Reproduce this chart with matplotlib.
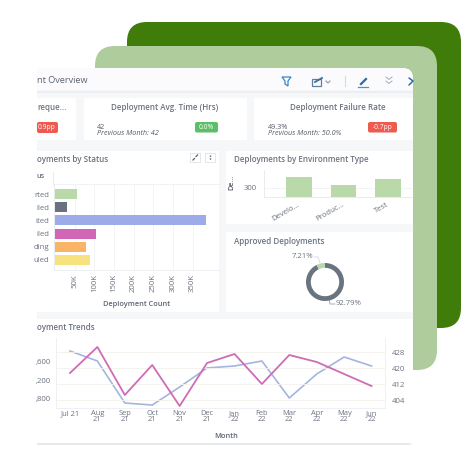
import matplotlib
matplotlib.use("Agg")
import matplotlib.pyplot as plt
from matplotlib.patches import FancyBboxPatch, Rectangle, Polygon

plt.rcParams['font.family'] = ['Open Sans', 'DejaVu Sans']

# ---- data ----
status_labels = ['rted', 'lled', 'ited', 'iled', 'ding', 'uled']
status_values = [56000, 30000, 385000, 103000, 80000, 90000]
status_colors = ['#b9d9a9', '#6a7180', '#9dabe8', '#d165b6', '#fab468', '#f6e27e']
status_ticks = [50000, 100000, 150000, 200000, 250000, 300000, 350000]
status_ticklabels = ['50K', '100K', '150K', '200K', '250K', '300K', '350K']

env_labels = ['Develo...', 'Produc...', 'Test']
env_values = [361, 317, 350]

donut_values = [92.79, 7.21]
donut_colors = ['#6a7380', '#b9d9a9']

months = ['Jul 21', 'Aug\n21', 'Sep\n21', 'Oct\n21', 'Nov\n21', 'Dec\n21',
          'Jan\n22', 'Feb\n22', 'Mar\n22', 'Apr\n22', 'May\n22', 'Jun\n22']
trend_left = [1844, 1622, 689, 644, 1044, 1467, 1511, 1622, 800, 1333, 1711, 1511]
trend_right = [417.5, 430.5, 406.5, 421.5, 401, 422.5, 427, 412, 426.5, 423, 417, 411]
left_ticks = [800, 1200, 1600]
left_ticklabels = [',800', ',200', ',600']
right_ticks = [404, 412, 420, 428]

TXT = '#6b7280'
W = H = 474
fig = plt.figure(figsize=(4.74, 4.74), dpi=100)
bg = fig.add_axes([0, 0, 1, 1], zorder=0)
bg.set_xlim(0, W); bg.set_ylim(H, 0); bg.axis('off')


def rrect(x0, y0, x1, y1, r, color, z=1, ec='none', lw=0):
    p = FancyBboxPatch((x0 + r, y0 + r), x1 - x0 - 2 * r, y1 - y0 - 2 * r,
                       boxstyle=f'round,pad={r},rounding_size={r}',
                       fc=color, ec=ec, lw=lw, zorder=z)
    bg.add_patch(p)


def box(x0, y0, x1, y1):
    return fig.add_axes([x0 / W, 1 - y1 / H, (x1 - x0) / W, (y1 - y0) / H], zorder=2)


# background shapes
rrect(127, 22, 461, 328, 20, '#3f7c0a', 1)
rrect(95, 46, 437, 370, 20, '#afcc9c', 2)
# panel
rrect(37, 68, 413, 120, 10, '#fbfbfd', 3)
bg.add_patch(Rectangle((37, 68), 30, 24, fc='#fbfbfd', ec='none', zorder=3))
bg.add_patch(Rectangle((37, 90), 376, 355, fc='#f6f7f9', ec='none', zorder=3))
bg.add_patch(Rectangle((37, 91), 376, 2, fc='#eceef1', ec='none', zorder=3))
# cards
for x0, y0, x1, y1 in [(37, 98, 76, 140), (84, 98, 247, 140), (254, 98, 413, 140),
                       (37, 151, 219, 312), (226, 151, 413, 224), (226, 232, 413, 312),
                       (37, 319, 413, 443)]:
    bg.add_patch(Rectangle((x0, y0), x1 - x0, y1 - y0, fc='white', ec='none', zorder=4))
bg.add_patch(Rectangle((37, 443), 373, 1.5, fc='#e6e8eb', ec='none', zorder=4))


def t(x, y, s, size=5.8, color=TXT, ha='left', va='center', **kw):
    bg.text(x, y, s, fontsize=size, color=color, ha=ha, va=va, zorder=6, **kw)


t(37, 80, 'nt Overview', 6.6, '#5b6472')
t(37, 107, 'reque...', 5.8, TXT, weight='semibold')
t(164.5, 107, 'Deployment Avg. Time (Hrs)', 5.8, TXT, ha='center', weight='semibold')
t(337.5, 107, 'Deployment Failure Rate', 5.8, TXT, ha='center', weight='semibold')
t(97, 127, '42', 5.2, '#555b66')
t(97, 133.8, 'Previous Month: 42', 5.2, '#555b66', style='italic')
t(268, 127, '49.3%', 5.2, '#555b66')
t(268, 133.8, 'Previous Month: 50.0%', 5.2, '#555b66', style='italic')

# badges
rrect(37, 122, 58, 133, 2, '#ee5a4f', 5)
t(47, 127.5, '0.9pp', 4.8, 'white', ha='center')
rrect(195, 122, 218, 132.5, 2, '#5cbf68', 5)
t(206.5, 127.3, '0.0%', 4.8, 'white', ha='center')
rrect(368, 122, 397, 132.5, 2, '#ee5a4f', 5)
t(382.5, 127.3, '-0.7pp', 4.8, 'white', ha='center')

t(37, 160, 'oyments by Status', 5.8, TXT, weight='semibold')
t(234, 160, 'Deployments by Environment Type', 5.8, TXT, weight='semibold')
t(234, 241, 'Approved Deployments', 5.8, TXT, weight='semibold')
t(37, 328, 'oyment Trends', 5.8, TXT, weight='semibold')
t(37, 177, 'us', 5.2, TXT, weight='semibold')

# header icons
ICON = '#3c86c4'
bg.add_patch(Polygon([(282, 77), (291, 77), (288, 81), (288, 86), (285, 84), (285, 81)],
                     closed=True, fc='none', ec=ICON, lw=0.9, zorder=6))
bg.add_patch(Rectangle((312, 79), 9, 6.5, fc='none', ec='#5d7f9f', lw=0.9, zorder=6))
bg.plot([315, 322], [82, 78], color='#3c6f9a', lw=1.3, zorder=6)
bg.plot([326, 328, 330], [81, 83, 81], color='#8b97a5', lw=0.8, zorder=6)
bg.plot([345, 345], [76, 86], color='#d6dade', lw=0.8, zorder=6)
bg.plot([361, 366], [84, 79], color='#2f6aa6', lw=1.6, zorder=6)
bg.plot([358, 368], [86.5, 86.5], color='#4c93cd', lw=0.9, zorder=6)
for yy in (77, 81):
    bg.plot([386, 389, 392], [yy, yy + 2.5, yy], color='#a3adb8', lw=0.7, zorder=6)
bg.plot([409, 413, 409], [78, 81, 85], color='#2f6aa6', lw=1.1, zorder=6, solid_capstyle='round')

# expand / menu buttons
for x0 in (190, 205):
    bg.add_patch(Rectangle((x0, 153), 10, 9, fc='none', ec='#dfe2e6', lw=0.6, zorder=6))
bg.plot([193, 194.5], [160, 158.5], color='#596270', lw=0.9, zorder=6)
bg.plot([196, 197.5], [156.5, 155], color='#596270', lw=0.9, zorder=6)
bg.plot([210, 210], [155, 160], color='#596270', lw=1, ls=(0, (1, 1)), zorder=6)

# status chart
ax = box(53.5, 184, 220, 270)
ax.patch.set_alpha(0)
ypos = list(range(len(status_values)))
ax.barh(ypos, status_values, height=0.76, color=status_colors, zorder=3)
ax.set_ylim(5.78, -0.78)
ax.set_xlim(-4000, 420000)
ax.set_xticks(status_ticks)
ax.set_xticklabels(status_ticklabels, rotation=90, fontsize=5.6, color=TXT)
ax.set_yticks(ypos)
ax.set_yticklabels(status_labels, fontsize=5.6, color=TXT)
ax.tick_params(length=0, pad=3)
ax.grid(axis='x', color='#f2f3f5', lw=0.6, zorder=0)
for s in ('top', 'right'):
    ax.spines[s].set_visible(False)
ax.spines['left'].set_color('#e6e8eb'); ax.spines['bottom'].set_color('#eceef1')
ax.spines['left'].set_linewidth(0.6); ax.spines['bottom'].set_linewidth(0.6)
bg.plot([53.5, 220], [184, 184], color='#eef0f2', lw=0.6, zorder=6)
bg.plot([53.5, 53.5], [172, 184], color='#e6e8eb', lw=0.6, zorder=6)
t(137, 304, 'Deployment Count', 5.3, '#5d6573', ha='center', weight='semibold')

# environment chart
ax = box(264, 170, 412, 197)
ax.patch.set_alpha(0)
xpos = list(range(len(env_values)))
ax.bar(xpos, env_values, width=0.584, color='#b9d9a9', zorder=3)
ax.set_xlim(-0.787, 2.54)
ax.set_ylim(250, 400)
ax.set_yticks([300])
ax.set_yticklabels(['300'], fontsize=5.6, color=TXT)
ax.set_xticks(xpos)
ax.set_xticklabels(env_labels, rotation=30, ha='right', va='center', rotation_mode='anchor',
                   fontsize=5.6, color=TXT)
ax.tick_params(length=0, pad=5)
ax.grid(axis='y', color='#f0f1f3', lw=0.6, zorder=0)
for s in ('top', 'right'):
    ax.spines[s].set_visible(False)
ax.spines['left'].set_color('#e6e8eb'); ax.spines['bottom'].set_color('#e6e8eb')
ax.spines['left'].set_linewidth(0.6); ax.spines['bottom'].set_linewidth(0.6)
t(232, 190, 'De...', 5.2, '#555b66', rotation=90, ha='center', va='bottom', weight='semibold')

# donut
ax = box(305, 262, 345, 302)
ax.pie(donut_values, colors=donut_colors, startangle=90, counterclock=False, radius=0.95,
       wedgeprops=dict(width=0.24))
ax.set_xlim(-1, 1); ax.set_ylim(-1, 1)
t(303, 257, '7.21%', 5.6, TXT, ha='center')
t(336, 303.5, '92.79%', 5.6, TXT)
bg.plot([314, 318, 320], [257, 257, 263], color='#d3d6da', lw=0.6, zorder=6)
bg.plot([329, 330, 335], [298, 304, 304], color='#9aa1aa', lw=0.6, zorder=6)

# trends
ax = box(56, 338, 385, 408)
ax.patch.set_alpha(0)
xs = list(range(len(months)))
ax.plot(xs, trend_left, color='#a3b5e0', lw=1.2, zorder=3)
ax.set_xlim(-0.51, 11.49)
ax.set_ylim(578, 2133)
ax.set_yticks(left_ticks)
ax.set_yticklabels(left_ticklabels, fontsize=5.6, color=TXT)
ax.set_xticks(xs)
ax.set_xticklabels(months, fontsize=5.4, color=TXT, linespacing=0.75)
ax.tick_params(axis='x', length=0, pad=1.5)
ax.tick_params(axis='y', length=0, pad=3.5)
for s in ('top',):
    ax.spines[s].set_visible(False)
for s in ('left', 'right', 'bottom'):
    ax.spines[s].set_color('#eceef1'); ax.spines[s].set_linewidth(0.6)
ax2 = ax.twinx()
ax2.plot(xs, trend_right, color='#cf6cb4', lw=1.3, zorder=3)
ax2.set_ylim(400, 435)
ax2.set_yticks(right_ticks)
ax2.set_yticklabels([str(v) for v in right_ticks], fontsize=5.6, color=TXT)
ax2.tick_params(length=0, pad=5)
ax2.grid(axis='y', color='#f4f1ea', lw=0.6)
ax2.set_axisbelow(True)
ax2.spines['top'].set_visible(False)
for s in ('left', 'right', 'bottom'):
    ax2.spines[s].set_visible(False)
t(226, 436.5, 'Month', 5.3, '#5d6573', ha='center', weight='semibold')

fig.savefig('out.png', dpi=100)
